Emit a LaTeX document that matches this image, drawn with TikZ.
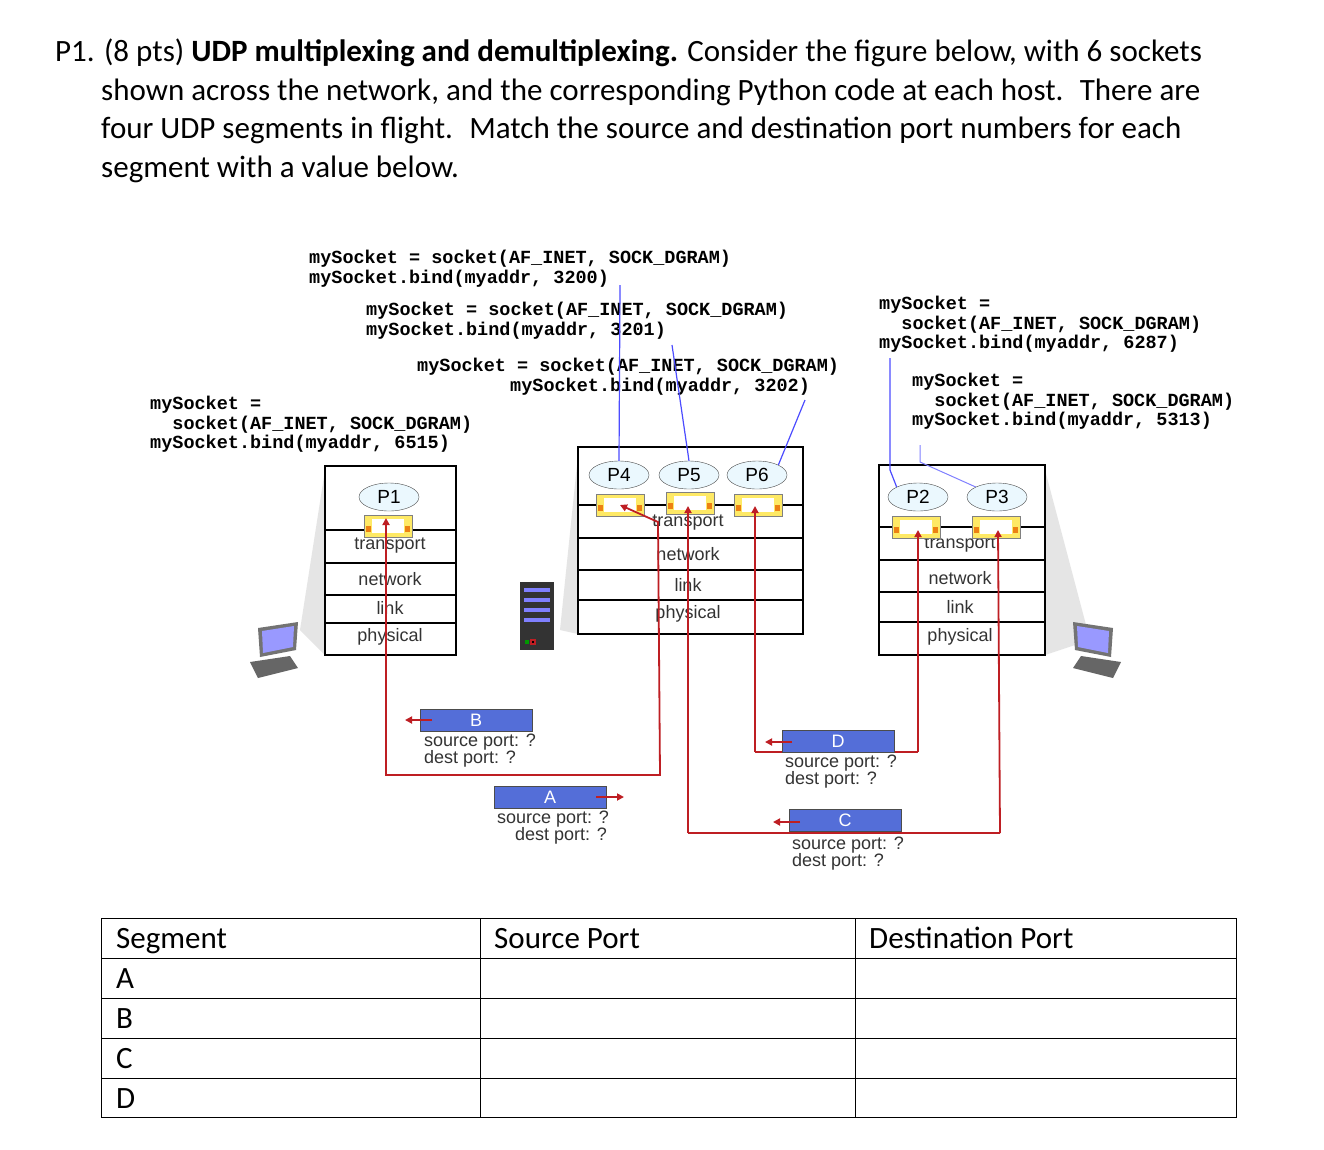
\documentclass[tikz,border=0pt]{standalone}
\usepackage{fontspec}
\setmainfont{Carlito}
\newfontfamily\lsans{Liberation Sans}
\newfontfamily\cmono{Liberation Mono}
\usetikzlibrary{arrows.meta,shapes.geometric}
\definecolor{segblue}{RGB}{84,110,216}
\definecolor{darkred}{RGB}{190,30,35}
\begin{document}
\begin{tikzpicture}[x=1pt,y=-1pt,
  code/.style={font=\cmono\bfseries\fontsize{18.5}{19.5}\selectfont,align=left,anchor=north west,inner sep=0pt},
  lab/.style={font=\lsans\fontsize{18}{18}\selectfont,inner sep=0pt,text=black!80},
  port/.style={ellipse,draw=black!70,fill=cyan!8,minimum width=60pt,minimum height=28pt,inner sep=0pt,font=\lsans\fontsize{19}{20}\selectfont},
  red/.style={draw=darkred,line width=1.8pt},
  blue/.style={draw=blue!70,line width=1.2pt},
  seg/.style={draw=black!70,fill=segblue,line width=1pt,text=white,font=\lsans\fontsize{18}{18}\selectfont,minimum width=112pt,minimum height=22pt,inner sep=0pt},
  sp/.style={font=\lsans\fontsize{18}{17}\selectfont,align=left,anchor=north west,inner sep=0pt,text=black!80},
  ar/.style={red,-{Triangle[length=7pt,width=7pt]}},
  box/.style={draw=black,line width=2.2pt,fill=white}]
\useasboundingbox (0,0) rectangle (1324,1149);
\fill[white] (0,0) rectangle (1324,1149);
\node[anchor=north west,inner sep=0pt,align=left,font=\fontsize{31}{38.5}\selectfont] (title) at (55,39)
 {P1. (8 pts) \textbf{UDP multiplexing and demultiplexing.} Consider the figure below, with 6 sockets\\
 \hspace*{46pt}shown across the network, and the corresponding Python code at each host.~ There are\\
 \hspace*{46pt}four UDP segments in flight.~ Match the source and destination port numbers for each\\
 \hspace*{46pt}segment with a value below.};
% code
\node[code] (c1) at (309,250) {mySocket = socket(AF\_INET, SOCK\_DGRAM)\\mySocket.bind(myaddr, 3200)};
\node[code] (c2) at (366,302) {mySocket = socket(AF\_INET, SOCK\_DGRAM)\\mySocket.bind(myaddr, 3201)};
\node[code] (c3) at (417,358) {mySocket = socket(AF\_INET, SOCK\_DGRAM)\\\hspace*{93pt}mySocket.bind(myaddr, 3202)};
\node[code] (c4) at (150,396) {mySocket =\\\ \ socket(AF\_INET, SOCK\_DGRAM)\\mySocket.bind(myaddr, 6515)};
\node[code] (c5) at (879,296) {mySocket =\\\ \ socket(AF\_INET, SOCK\_DGRAM)\\mySocket.bind(myaddr, 6287)};
\node[code] (c6) at (912,373) {mySocket =\\\ \ socket(AF\_INET, SOCK\_DGRAM)\\mySocket.bind(myaddr, 5313)};
% shadows
\fill[black!10] (325,470) -- (300,630) -- (325,655) -- cycle;
\fill[black!10] (578,455) -- (560,630) -- (578,634) -- cycle;
\fill[black!10] (1045,470) -- (1090,640) -- (1045,655) -- cycle;
% hosts
\draw[box] (325,466) rectangle (456,655);
\foreach \y in {530,563,595,623} \draw[line width=1.5pt] (325,\y) -- (456,\y);
\node[lab] (t1) at (390,546) {transport};
\node[lab] at (390,579) {network};
\node[lab] at (390,608) {link};
\node[lab] at (390,637) {physical};
\draw[box] (578,447) rectangle (803,634);
\foreach \y in {505,538,570,600} \draw[line width=1.5pt] (578,\y) -- (803,\y);
\node[lab] at (688,523) {transport};
\node[lab] at (688,554) {network};
\node[lab] at (688,585) {link};
\node[lab] at (688,614) {physical};
\draw[box] (879,465) rectangle (1045,655);
\foreach \y in {527,560,592,622} \draw[line width=1.5pt] (879,\y) -- (1045,\y);
\node[lab] at (960,545) {transport};
\node[lab] at (960,578) {network};
\node[lab] at (960,607) {link};
\node[lab] at (960,637) {physical};
% ports
\node[port] (P1) at (389,497) {P1};
\node[port] (P4) at (619,475) {P4};
\node[port] (P5) at (689,475) {P5};
\node[port] (P6) at (757,475) {P6};
\node[port] (P2) at (918,497) {P2};
\node[port] (P3) at (997,497) {P3};
% sockets
\foreach \n/\x/\y in {s1/388/526,s4/620/505,s5/690/503,s6/758/505,s2/916/527,s3/996/527}{
  \node[draw=black!50,fill=yellow!80!orange!60,minimum width=48pt,minimum height=22pt,inner sep=0pt] (\n) at (\x,\y) {};
  \fill[white] (\x-16,\y-7) rectangle (\x+16,\y+7);
  \fill[orange!70!brown] (\x-22,\y) rectangle (\x-17,\y+6);
  \fill[orange!70!brown] (\x+17,\y) rectangle (\x+22,\y+6);
}
% blue lines
\draw[blue] (620,285) -- (P4.north);
\draw[blue] (672,345) -- (P5.north);
\draw[blue] (805,400) -- (P6.north east);
\draw[blue] (890,358) -- (890,470) -- (P2.north west);
\draw[blue!50,line width=1pt] (920,445) -- (920,462) -- (P3.north west);
% red paths
\coordinate (b1) at (660,775); \coordinate (b2) at (386,775);
\draw[red,{Triangle[length=7pt,width=7pt]}-{Triangle[length=7pt,width=7pt]}] (620,505) -- (658,522) -- (b1) -- (b2) -- (386,518);
\draw[ar] (755,752) -- (755,506);
\draw[red] (755,752) -- (918,752);
\draw[ar] (918,752) -- (918,530);
\draw[ar] (688,833) -- (688,506);
\draw[red] (688,833) -- (1000,833);
\draw[ar] (1000,833) -- (998,530);
% segments
\node[seg] (B) at (476,720) {B};
\draw[ar,line width=1.8pt] (432,720) -- (405,720);
\node[sp] at (424,734) {source port: ?\\dest port: ?};
\node[seg] (A) at (550,797) {A};
\draw[ar] (596,797) -- (624,797);
\node[sp] at (497,811) {source port: ?\\\hspace*{18pt}dest port: ?};
\node[seg] (D) at (838,741) {D};
\draw[ar] (792,742) -- (765,742);
\node[sp] at (785,755) {source port: ?\\dest port: ?};
\node[seg] (C) at (845,820) {C};
\draw[ar] (800,822) -- (773,822);
\node[sp] at (792,837) {source port: ?\\dest port: ?};
% computers
\foreach \cx/\s in {278/1,1093/-1}{
  \fill[black!55] (\cx-20*\s,628) -- (\cx+20*\s,622) -- (\cx+18*\s,650) -- (\cx-18*\s,657) -- cycle;
  \fill[blue!40!white] (\cx-16*\s,631) -- (\cx+16*\s,626) -- (\cx+15*\s,647) -- (\cx-15*\s,653) -- cycle;
  \fill[black!60] (\cx-28*\s,662) -- (\cx+12*\s,656) -- (\cx+20*\s,668) -- (\cx-20*\s,678) -- cycle;
}
\fill[black!80] (520,582) rectangle (554,650);
\foreach \y in {588,598,608,618} \fill[blue!50] (524,\y) rectangle (550,\y+4);
\fill[green!60!black] (525,640) rectangle (529,644);
\fill[red] (531,640) rectangle (535,644);
% table
\draw[line width=1pt] (101,918) rectangle (1236,1117);
\foreach \y in {958,998,1038,1078} \draw[line width=1pt] (101,\y) -- (1236,\y);
\draw[line width=1pt] (480,918) -- (480,1117) (855,918) -- (855,1117);
\foreach \t/\x/\y in {Segment/116/942,A/116/982,B/116/1022,C/116/1062,D/116/1102,Source Port/494/942,Destination Port/869/942}
  \node[anchor=west,inner sep=0pt,font=\fontsize{31}{32}\selectfont] at (\x,\y) {\strut\t};
\end{tikzpicture}
\end{document}
